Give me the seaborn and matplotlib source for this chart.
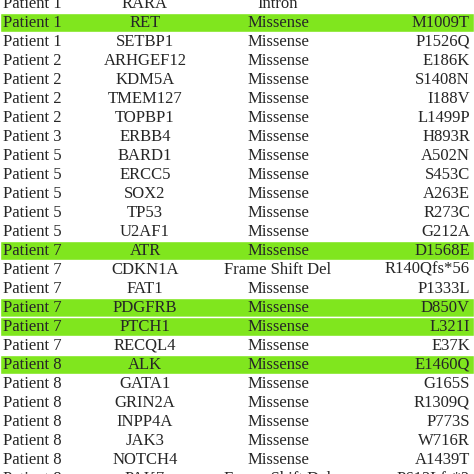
import matplotlib

matplotlib.use("Agg")

import matplotlib.pyplot as plt
import seaborn as sns

PATIENTS = ["Patient 1"] * 3 + ["Patient 2"] * 4 + ["Patient 3"] + ["Patient 5"] * 5 \
    + ["Patient 7"] * 6 + ["Patient 8"] * 7
GENES = ["RARA", "RET", "SETBP1", "ARHGEF12", "KDM5A", "TMEM127", "TOPBP1", "ERBB4",
         "BARD1", "ERCC5", "SOX2", "TP53", "U2AF1", "ATR", "CDKN1A", "FAT1", "PDGFRB",
         "PTCH1", "RECQL4", "ALK", "GATA1", "GRIN2A", "INPP4A", "JAK3", "NOTCH4", "PAK7"]
TYPES = ["Intron"] + ["Missense"] * 13 + ["Frame Shift Del"] + ["Missense"] * 10 \
    + ["Frame Shift Del"]
CHANGES = ["", "M1009T", "P1526Q", "E186K", "S1408N", "I188V", "L1499P", "H893R",
           "A502N", "S453C", "A263E", "R273C", "G212A", "D1568E", "R140Qfs*56", "P1333L",
           "D850V", "L321I", "E37K", "E1460Q", "G165S", "R1309Q", "P773S", "W716R",
           "A1439T", "P612Lfs*2"]
HIGHLIGHT = ["RET", "ATR", "PDGFRB", "PTCH1", "ALK"]

sns.set_theme(style="white")
plt.rcParams["font.family"] = ["Liberation Serif", "DejaVu Serif"]

fig = plt.figure(figsize=(4.74, 4.74), dpi=100)
ax = fig.add_axes([0, 0, 1, 1])
rows = list(range(len(GENES)))
hl_rows = [i for i, g in enumerate(GENES) if g in HIGHLIGHT]
ax.barh(hl_rows, [474] * len(hl_rows), height=1.0, left=0, color="#80e61e")

for i in rows:
    ax.text(3, i, PATIENTS[i], ha="left", va="center", fontsize=12)
    ax.text(145, i, GENES[i], ha="center", va="center", fontsize=12)
    ax.text(278, i, TYPES[i], ha="center", va="center", fontsize=12)
    ax.text(470, i, CHANGES[i], ha="right", va="center", fontsize=12)

ax.set_xlim(0, 474)
ax.set_ylim(470 / 19, -4 / 19)
ax.axis("off")
fig.savefig("out.png", dpi=100)
plt.close(fig)
